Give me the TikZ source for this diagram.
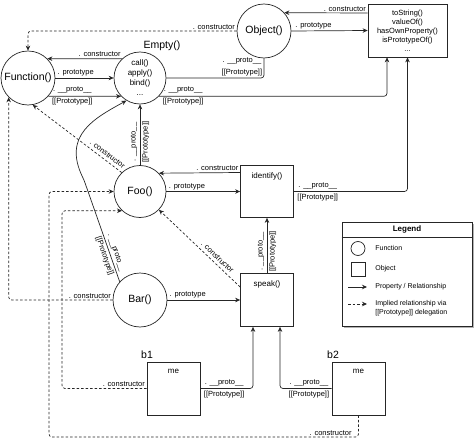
\documentclass[tikz,border=0pt]{standalone}
\usepackage{fontspec}
\setmainfont{Liberation Sans}
\usetikzlibrary{arrows.meta,shadows}

\newcommand{\protolbl}{. \_\_proto\_\_\\{}[[Prototype]]}

\begin{document}
\begin{tikzpicture}[x=1pt, y=-1pt, line width=0.7pt, draw=black!85,
  fn/.style={draw, circle, inner sep=0pt, minimum size=54pt, font=\fontsize{10.5}{12}\selectfont},
  obj/.style={draw, rectangle, inner sep=0pt, minimum width=53pt, minimum height=53pt},
  inner/.style={font=\fontsize{8}{10}\selectfont, inner sep=1pt},
  lbl/.style={font=\fontsize{7.5}{9}\selectfont, inner sep=1.5pt},
  two/.style={lbl, align=center, font=\fontsize{7.5}{12}\selectfont},
  leg/.style={font=\fontsize{7}{9}\selectfont, inner sep=1pt, anchor=west, align=left},
  link/.style={rounded corners=3pt},
  rel/.style={link, -{Stealth[length=5pt,width=4.5pt]}},
  implied/.style={rel, dash pattern=on 2.5pt off 2pt}]

\useasboundingbox (0,0) rectangle (474,444);

% Functions
\node[fn] (fun) at (28,78) {Function()};
\node[fn, minimum size=52pt, align=center, font=\fontsize{8}{10}\selectfont] (empty) at (140,78) {call()\\apply()\\bind()\\...};
\node[font=\fontsize{10.5}{12}\selectfont] (emptyname) at (162,46) {Empty()};
\node[fn] (obj) at (264,31) {Object()};
\node[fn, minimum size=52pt] (foo) at (140,191.5) {Foo()};
\node[fn] (bar) at (140,300) {Bar()};

% Objects
\node[obj, minimum width=79pt, align=center, font=\fontsize{7.5}{9}\selectfont] (objproto) at (407.5,30.5) {toString()\\valueOf()\\hasOwnProperty()\\isPrototypeOf()\\...};
\node[obj, minimum height=52pt, label={[inner, anchor=north, yshift=-6pt]north:identify()}] (fooproto) at (267,191.5) {};
\node[obj, label={[inner, anchor=north, yshift=-6pt]north:speak()}] (barproto) at (267,300) {};
\node[obj, label={[inner, anchor=north, yshift=-6pt]north:me}] (bone) at (173.5,388.5) {};
\node[font=\fontsize{10.5}{12}\selectfont] (bonename) at (147,355) {b1};
\node[obj, label={[inner, anchor=north, yshift=-6pt]north:me}] (btwo) at (358.5,388.5) {};
\node[font=\fontsize{10.5}{12}\selectfont] (btwoname) at (333,355) {b2};

% Function and Empty
\draw[implied] (obj.west) -| node[lbl, pos=0, anchor=south east] {. constructor} (fun.north);
\draw[rel] (empty.133) -- node[lbl, above, pos=0.3] {. constructor} (fun.45);
\draw[rel] (fun.east) -- node[lbl, above, pos=0.35] {. prototype} (empty.west);
\draw[rel] (fun.-42) -- node[two, pos=0.33] {\protolbl} (empty.-136);
\draw[link] (obj.south) |- node[two, pos=0.5, anchor=south east] {\protolbl} (empty.east);

% Object and its prototype
\draw[rel] (empty.-44) -| node[two, pos=0.053] {\protolbl} ([xshift=-20.5pt]objproto.south);
\draw[rel] (obj.east) -- node[lbl, above, pos=0.29] {. prototype} (objproto.west);
\draw[rel] ([yshift=17.5pt]objproto.west) -- node[lbl, pos=0, anchor=south east] {. constructor} (obj.42);
\draw[rel] (fooproto.east) -| node[two, pos=0.105] {\protolbl} (objproto.south);

% Foo
\draw[rel] (foo.north) -- node[two, rotate=90, pos=0.38] {\protolbl} (empty.south);
\draw[rel] ([yshift=19pt]fooproto.west) -- node[lbl, pos=0, anchor=south east] {. constructor} (foo.44);
\draw[rel] (foo.east) -- node[lbl, above, pos=0.28] {. prototype} (fooproto.west);
\draw[implied] (foo.134) -- node[lbl, sloped, above=1.5pt, pos=0.2] {. constructor} (fun.-80);

% Bar
\draw[implied] (bar.west) -| node[lbl, pos=0, anchor=south east] {. constructor} (fun.-135);
\draw[rel] (bar.east) -- node[lbl, above, pos=0.28] {. prototype} (barproto.west);
\draw[implied] ([yshift=13pt]barproto.west) -- node[lbl, sloped, above=1.5pt, pos=0.33] {. constructor} (foo.-44);
\draw[rel] (barproto.north) -- node[two, rotate=90, pos=0.39] {\protolbl} (fooproto.south);
\draw[rel] (bar.138) -- node[two, sloped, pos=0.27] {\protolbl} (84,180) .. controls (62,135) and (95,118) .. (empty.-121);

% b1 and b2
\draw[implied] (bone.west) -| node[lbl, pos=0, anchor=south east] {. constructor} ([xshift=-60pt]foo.-133) -- (foo.-133);
\draw[rel] (bone.east) -| node[two, pos=0.226] {\protolbl} ([xshift=-14pt]barproto.south);
\draw[implied] (btwo.south) |- node[lbl, pos=0.5, anchor=south east, xshift=-5pt] {. constructor} (49,437) |- (foo.west);
\draw[rel] (btwo.west) -| node[two, pos=0.22] {\protolbl} ([xshift=13pt]barproto.south);

% Legend
\node[draw, fill=white, inner sep=0pt, minimum width=130pt, minimum height=104pt,
  drop shadow={shadow xshift=1.5pt, shadow yshift=-1.5pt, opacity=0.6}] (legend) at (407,274) {};
\draw ([yshift=-16pt]legend.north west) -- ([yshift=-16pt]legend.north east);
\node[font=\bfseries\fontsize{8}{10}\selectfont] (legendtitle) at (407,229) {Legend};
\node[draw, circle, inner sep=0pt, minimum size=14pt] (lfun) at (358,248.5) {};
\node[leg] (lfuntext) at (374,248) {Function};
\node[draw, inner sep=0pt, minimum size=14pt] (lobj) at (358.5,269) {};
\node[leg] (lobjtext) at (374,269) {Object};
\coordinate (lrela) at (348,287);
\coordinate (lrelb) at (367,287);
\draw[rel] (lrela) -- (lrelb);
\node[leg] (lreltext) at (374,287) {Property / Relationship};
\coordinate (limpa) at (348,304);
\coordinate (limpb) at (367,304);
\draw[implied] (limpa) -- (limpb);
\node[leg, anchor=north west] (limptext) at (374,299) {Implied relationship via\\{}[[Prototype]] delegation};

\end{tikzpicture}
\end{document}
